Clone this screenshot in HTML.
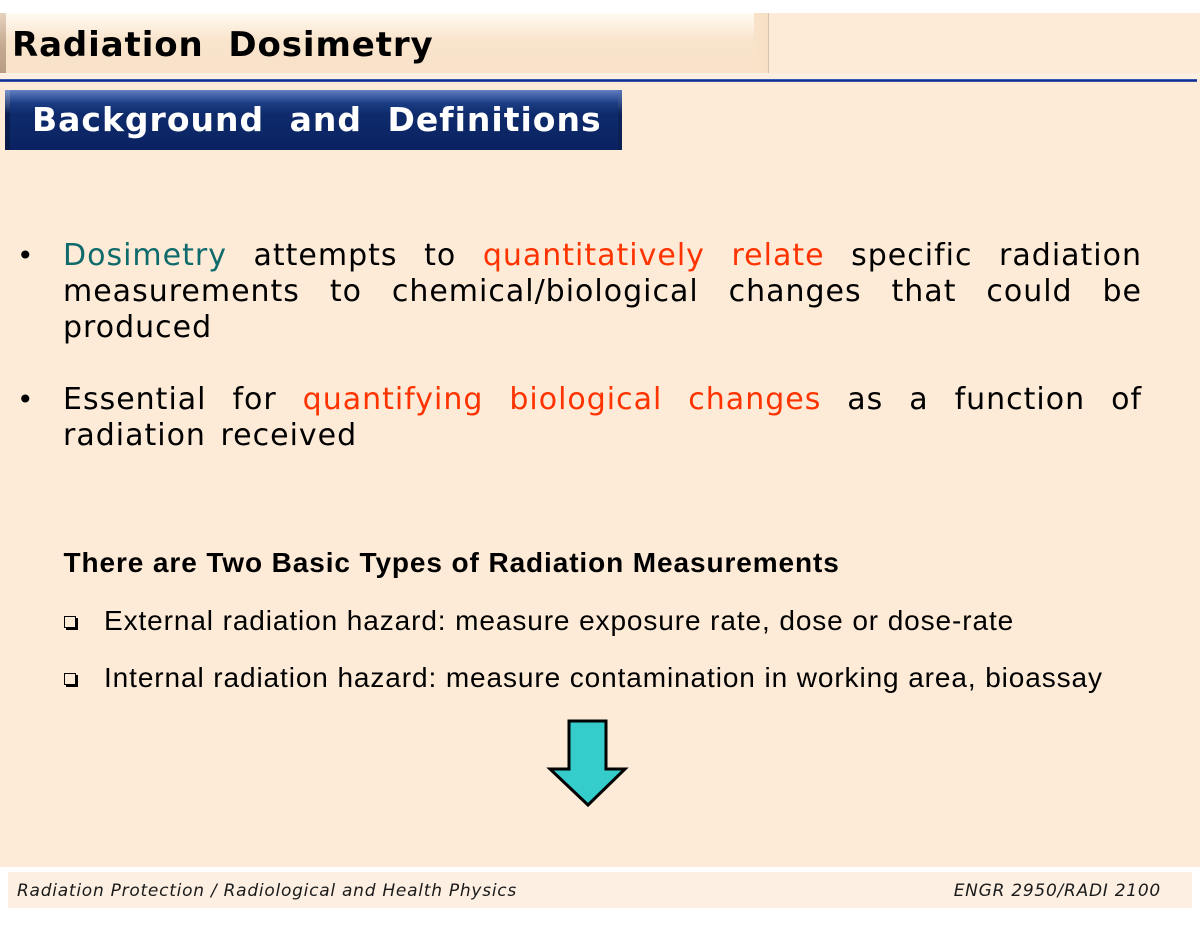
<!DOCTYPE html>
<html>
<head>
<meta charset="utf-8">
<style>
  html,body{margin:0;padding:0;}
  body{width:1200px;height:927px;position:relative;background:#ffffff;overflow:hidden;}
  .abs{position:absolute;white-space:nowrap;}
  #bg{position:absolute;left:0;top:13px;width:1200px;height:854px;background:#FDEBD8;}
  #titlebar{position:absolute;left:0;top:13px;width:768px;height:60px;
    background:linear-gradient(to bottom,#FFFAF3 0%,#FCEEDD 25%,#F9E4CC 45%,#F8E2C9 100%);
    border-right:1px solid #D6C2AC;}
  #titlebar .lb{position:absolute;left:0;top:0;width:6px;height:60px;
    background:linear-gradient(to bottom,#E6D2BE,#C7AC94 50%,#B89C84);}
  #titlebar .rb{position:absolute;right:0;top:0;width:14px;height:60px;
    background:linear-gradient(to left,#F6E0C6,#F8E2C9);}
  #strip{position:absolute;left:0;top:73px;width:1200px;height:6px;background:#FDF0E3;}
  #line{position:absolute;left:0;top:79px;width:1197px;height:3px;
    background:linear-gradient(to bottom,#5C7AC8 0%,#14329A 35%,#0E2A8A 70%,#6E88CC 100%);}
  #bluebox{position:absolute;left:5px;top:90px;width:617px;height:60px;
    background:linear-gradient(to bottom,#6582C2 0%,#3F5FA6 10%,#1C3D84 22%,#0E2B6C 40%,#0A2261 100%);}
  #bluebox .lb{position:absolute;left:0;top:0;width:5px;height:60px;background:linear-gradient(to bottom,#7A94CC,#0A1D50 40%,#081A48);}
  #bluebox .rb{position:absolute;right:0;top:0;width:4px;height:60px;background:linear-gradient(to bottom,#5A78BC,#0C2358 40%,#0A1F52);}
  .title{font-family:"DejaVu Sans","Liberation Sans",sans-serif;font-weight:bold;font-size:34px;line-height:40px;letter-spacing:0.9px;word-spacing:12px;color:#000;}
  .sub{font-family:"DejaVu Sans","Liberation Sans",sans-serif;font-weight:bold;font-size:33px;line-height:40px;letter-spacing:1.0px;word-spacing:13px;color:#fff;}
  .body{font-family:"DejaVu Sans","Liberation Sans",sans-serif;font-size:30px;line-height:36px;letter-spacing:1.0px;word-spacing:4px;color:#000;}
  .just{text-align:justify;text-align-last:justify;width:1079px;white-space:normal;}
  .teal{color:#0F6B6B;}
  .red{color:#FF3300;}
  .bul{font-family:"DejaVu Sans",sans-serif;font-size:28px;line-height:36px;color:#000;}
  .arial{font-family:"Liberation Sans",Arial,sans-serif;font-size:28px;line-height:34px;letter-spacing:0.9px;color:#000;}
  .chk{position:absolute;width:10px;height:10px;border:1.5px solid #000;box-shadow:2px 2px 0 #000;background:transparent;}
  #footer{position:absolute;left:3px;top:867px;width:1184px;height:36px;border:5px solid #ffffff;background:#FDF0E3;}
  .foot{font-family:"DejaVu Sans","Liberation Sans",sans-serif;font-style:italic;font-size:17px;line-height:20px;letter-spacing:0.75px;color:#1a1a1a;}
</style>
</head>
<body>
<div id="bg"></div>
<div id="titlebar"><div class="lb"></div><div class="rb"></div></div>
<div id="strip"></div>
<div id="line"></div>
<div class="abs title" style="left:12px;top:25px;">Radiation Dosimetry</div>

<div id="bluebox"><div class="lb"></div><div class="rb"></div></div>
<div class="abs sub" style="left:32px;top:99.5px;">Background and Definitions</div>

<!-- Bullet 1 -->
<div class="abs bul" style="left:17px;top:238px;">•</div>
<div class="abs body just" style="left:63px;top:237.8px;"><span class="teal">Dosimetry</span> attempts to <span class="red">quantitatively relate</span> specific radiation</div>
<div class="abs body just" style="left:63px;top:273.8px;">measurements to chemical/biological changes that could be</div>
<div class="abs body" style="left:63px;top:309.8px;">produced</div>

<!-- Bullet 2 -->
<div class="abs bul" style="left:17px;top:382px;">•</div>
<div class="abs body just" style="left:63px;top:381.8px;">Essential for <span class="red">quantifying biological changes</span> as a function of</div>
<div class="abs body" style="left:63px;top:417.8px;">radiation received</div>

<!-- Two Basic Types -->
<div class="abs arial" style="left:63.5px;top:546.3px;font-weight:bold;">There are Two Basic Types of Radiation Measurements</div>

<div class="chk" style="left:64px;top:616px;"></div>
<div class="abs arial" style="left:104px;top:604.3px;">External radiation hazard: measure exposure rate, dose or dose-rate</div>

<div class="chk" style="left:64px;top:673px;"></div>
<div class="abs arial" style="left:104px;top:661.3px;">Internal radiation hazard: measure contamination in working area, bioassay</div>

<!-- Arrow -->
<svg style="position:absolute;left:0;top:0;" width="1200" height="927">
  <polygon points="569,721 606,721 606,769 625,769 588,805 550,769 569,769" fill="#35CCCC" stroke="#000" stroke-width="3" stroke-linejoin="miter"/>
</svg>

<!-- Footer -->
<div id="footer"></div>
<div class="abs foot" style="left:17px;top:880.5px;">Radiation Protection / Radiological and Health Physics</div>
<div class="abs foot" style="right:39px;top:880.5px;">ENGR 2950/RADI 2100</div>
</body>
</html>
